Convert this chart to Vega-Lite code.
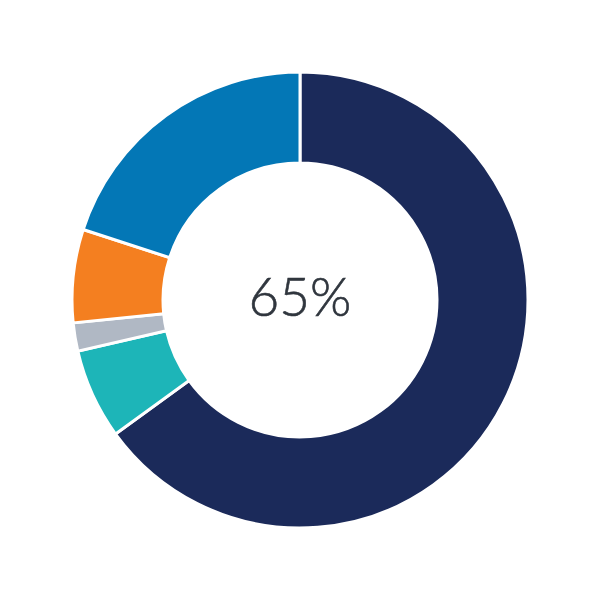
{
  "$schema": "https://vega.github.io/schema/vega-lite/v6.json",
  "width": 600,
  "height": 600,
  "autosize": {"type": "fit", "contains": "padding"},
  "background": "white",
  "config": {"view": {"stroke": null}},
  "data": {
    "values": [
      {"segment": "A", "rank": 1, "share": 65},
      {"segment": "B", "rank": 2, "share": 6.4},
      {"segment": "C", "rank": 3, "share": 2},
      {"segment": "D", "rank": 4, "share": 6.6},
      {"segment": "E", "rank": 5, "share": 20}
    ]
  },
  "layer": [
    {
      "mark": {"type": "arc", "outerRadius": 228, "innerRadius": 137, "stroke": "white", "strokeWidth": 3},
      "encoding": {
        "theta": {"field": "share", "type": "quantitative", "stack": true},
        "order": {"field": "rank", "type": "quantitative"},
        "color": {
          "field": "segment",
          "type": "nominal",
          "scale": {
            "domain": ["A", "B", "C", "D", "E"],
            "range": ["#1b2a5a", "#1db5b8", "#b0b8c4", "#f47f20", "#0377b6"]
          },
          "legend": null
        }
      }
    },
    {
      "data": {"values": [{"label": "65%"}]},
      "mark": {"type": "text", "font": "Lato", "fontWeight": 300, "fontSize": 53, "color": "#30363e", "stroke": "#30363e", "strokeWidth": 0.6, "align": "center", "baseline": "middle"},
      "encoding": {"text": {"field": "label"}}
    }
  ]
}
